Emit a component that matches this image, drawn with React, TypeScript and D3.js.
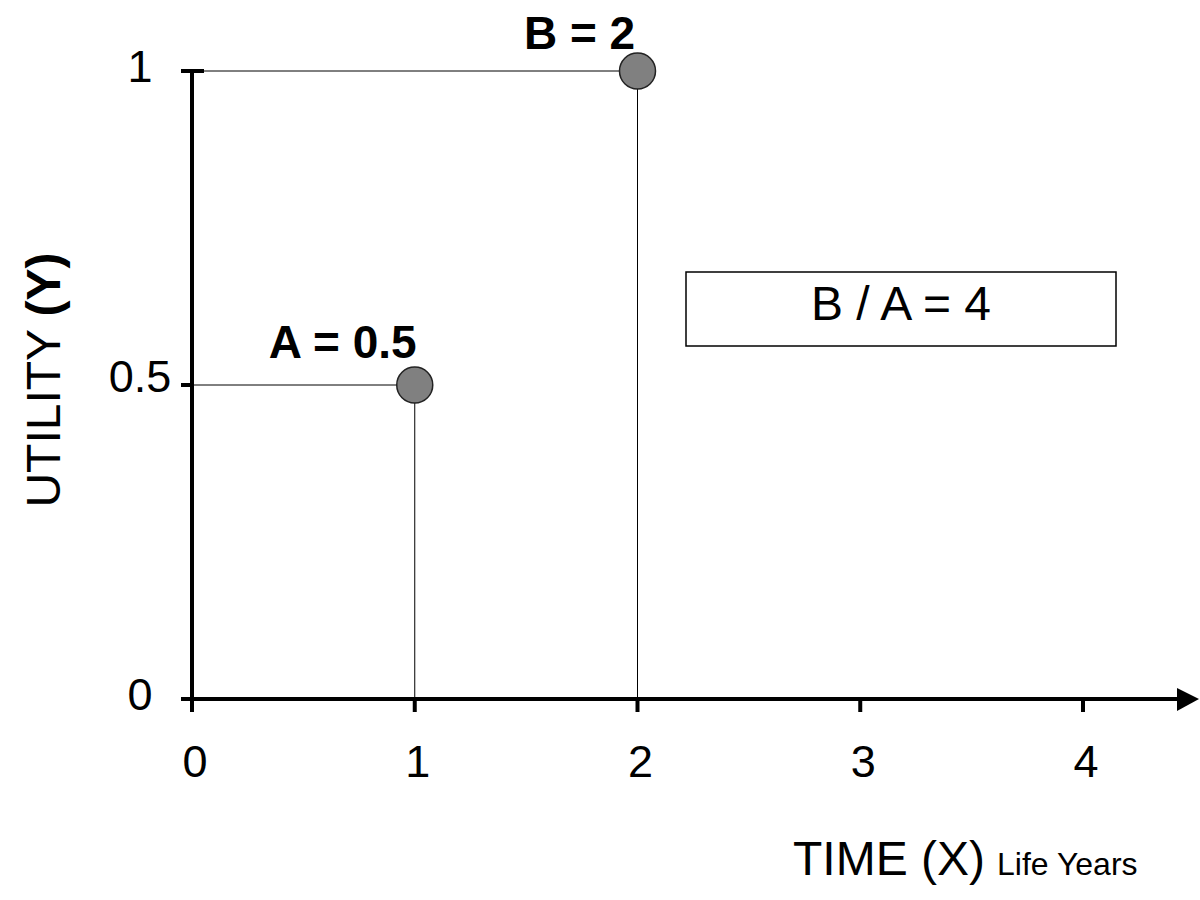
import React from "react";
import * as d3 from "d3";

const xTicks = [0, 1, 2, 3, 4];
const yTicks = [0, 0.5, 1];
const yTickLabels = ["0", "0.5", "1"];
const pointNames = ["A", "B"];
const pointX = [1, 2];
const pointY = [0.5, 1];
const pointLabels = ["A = 0.5", "B = 2"];
const ratioText = "B / A = 4";

const W = 1200;
const H = 900;
const FONT = "'Liberation Sans', Arial, Helvetica, sans-serif";

export default function App() {
  const x = d3.scaleLinear().domain([0, 4]).range([192, 1083]);
  const y = d3.scaleLinear().domain([0, 1]).range([699, 71]);
  const x0 = x(0);
  const y0 = y(0);

  return (
    <svg
      width={W}
      height={H}
      viewBox={`0 0 ${W} ${H}`}
      style={{ position: "absolute", left: 0, top: 0, background: "#fff" }}
      fontFamily={FONT}
    >
      <rect x={0} y={0} width={W} height={H} fill="#fff" />

      {/* drop lines */}
      {pointNames.map((n, i) => (
        <g key={"drop" + n} stroke="#000" strokeWidth={1}>
          <line x1={x0} x2={x(pointX[i])} y1={y(pointY[i])} y2={y(pointY[i])} />
          <line x1={x(pointX[i])} x2={x(pointX[i])} y1={y(pointY[i])} y2={y0} />
        </g>
      ))}

      {/* y axis */}
      <line x1={x0} x2={x0} y1={y(1) - 2} y2={y0 + 13} stroke="#000" strokeWidth={4} />
      {yTicks.map((t) => (
        <line
          key={"yt" + t}
          x1={x0 - 11}
          x2={t === 1 ? x0 + 12 : x0}
          y1={y(t)}
          y2={y(t)}
          stroke="#000"
          strokeWidth={4}
        />
      ))}
      {yTicks.map((t, i) => (
        <text
          key={"yl" + t}
          x={140}
          y={y(t) + (t === 0.5 ? 7 : 11)}
          textAnchor="middle"
          fontSize={45}
          fill="#000"
        >
          {yTickLabels[i]}
        </text>
      ))}

      {/* x axis */}
      <line x1={x0 - 11} x2={1180} y1={y0} y2={y0} stroke="#000" strokeWidth={4} />
      <path d={`M1177,${y0 - 11} L1199,${y0} L1177,${y0 + 12} Z`} fill="#000" />
      {xTicks.map((t) => (
        <line key={"xt" + t} x1={x(t)} x2={x(t)} y1={y0} y2={y0 + 13} stroke="#000" strokeWidth={4} />
      ))}
      {xTicks.map((t) => (
        <text key={"xl" + t} x={x(t) + 3} y={777} textAnchor="middle" fontSize={45} fill="#000">
          {t}
        </text>
      ))}

      {/* points */}
      {pointNames.map((n, i) => (
        <circle
          key={"pt" + n}
          cx={x(pointX[i])}
          cy={y(pointY[i])}
          r={18}
          fill="#808080"
          stroke="#222"
          strokeWidth={1.5}
        />
      ))}
      {pointNames.map((n, i) => (
        <text
          key={"pl" + n}
          x={x(pointX[i]) - 72 + (i === 1 ? 14 : 0)}
          y={y(pointY[i]) - (i === 1 ? 22 : 27)}
          textAnchor="middle"
          fontSize={46}
          fontWeight="bold"
          fill="#000"
        >
          {pointLabels[i]}
        </text>
      ))}

      {/* ratio box */}
      <rect x={686} y={272} width={430} height={74} fill="#fff" stroke="#000" strokeWidth={1.5} />
      <text x={901} y={320} textAnchor="middle" fontSize={48} fill="#000">
        {ratioText}
      </text>

      {/* axis titles */}
      <text x={793} y={875} fontSize={48} fill="#000">
        TIME (X)
        <tspan fontSize={32} dx={12}>Life Years</tspan>
      </text>
      <text
        transform="translate(60,380) rotate(-90)"
        textAnchor="middle"
        fontSize={48}
        fill="#000"
      >
        UTILITY <tspan fontWeight="bold">(Y)</tspan>
      </text>
    </svg>
  );
}
